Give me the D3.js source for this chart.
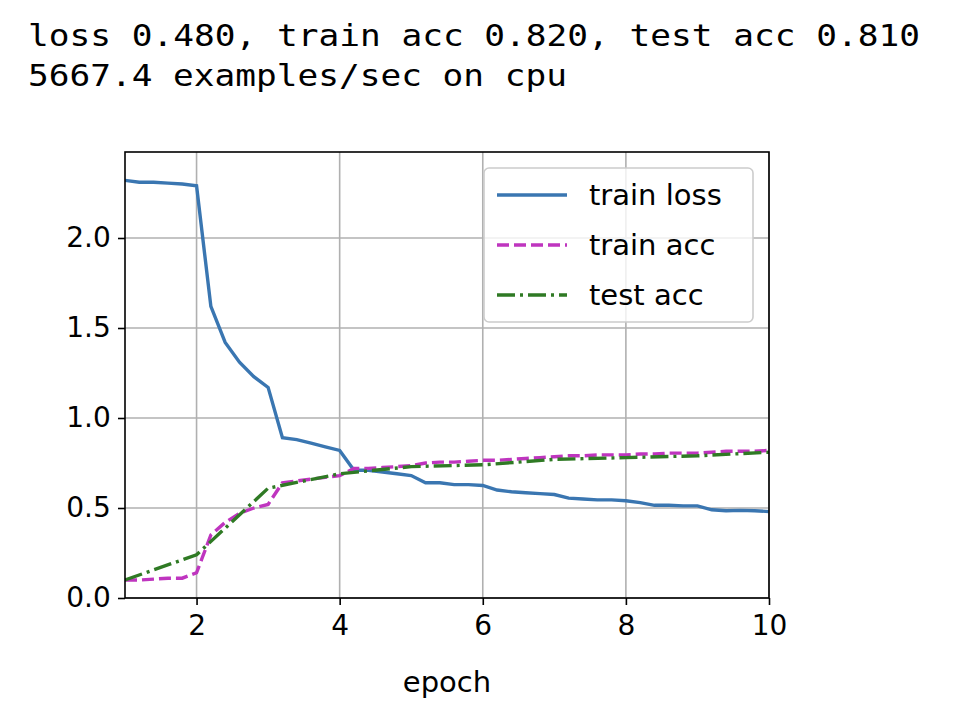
<!DOCTYPE html>
<html><head><meta charset="utf-8">
<script src="https://cdn.jsdelivr.net/npm/d3@7"></script>
<style>body{margin:0;background:#fff}</style></head>
<body><svg id="c" width="968" height="722"></svg>
<script>
const titleLines = ["loss 0.480, train acc 0.820, test acc 0.810", "5667.4 examples/sec on cpu"];
const stepX = [1,1.2,1.4,1.6,1.8,2,2.2,2.4,2.6,2.8,3,3.2,3.4,3.6,3.8,4,4.2,4.4,4.6,4.8,5,5.2,5.4,5.6,5.8,6,6.2,6.4,6.6,6.8,7,7.2,7.4,7.6,7.8,8,8.2,8.4,8.6,8.8,9,9.2,9.4,9.6,9.8,10];
const trainLoss = [2.32,2.31,2.31,2.305,2.30,2.29,1.62,1.42,1.31,1.23,1.17,0.89,0.88,0.86,0.84,0.82,0.71,0.71,0.70,0.69,0.68,0.64,0.64,0.63,0.63,0.625,0.60,0.59,0.585,0.58,0.575,0.555,0.55,0.545,0.545,0.54,0.53,0.515,0.515,0.512,0.512,0.49,0.485,0.487,0.485,0.48];
const trainAcc = [0.10,0.10,0.105,0.11,0.11,0.14,0.35,0.42,0.47,0.50,0.52,0.64,0.65,0.66,0.67,0.68,0.72,0.72,0.725,0.73,0.735,0.75,0.755,0.755,0.76,0.765,0.765,0.77,0.775,0.78,0.785,0.79,0.79,0.795,0.795,0.795,0.80,0.80,0.805,0.805,0.805,0.81,0.815,0.815,0.815,0.82];
const epochX = [1,2,3,4,5,6,7,8,9,10];
const testAcc = [0.10,0.24,0.61,0.69,0.73,0.74,0.77,0.78,0.79,0.81];
const xTicks = [2,4,6,8,10];
const yTicks = [0,0.5,1.0,1.5,2.0];

const svg = d3.select("#c");
const L=125,R=769,T=152,B=598;
const x = d3.scaleLinear().domain([1,10]).range([L,R]);
const y = d3.scaleLinear().domain([0,(B-T)/180]).range([B,T]);
const tw=[892,539];
svg.selectAll("text.t").data(titleLines).join("text").attr("x",28).attr("y",(d,i)=>46+i*40)
  .attr("font-family","DejaVu Sans Mono").attr("font-size",31).attr("textLength",(d,i)=>tw[i]).attr("lengthAdjust","spacingAndGlyphs").text(d=>d);
const g = svg.append("g");
g.selectAll("line.gx").data(xTicks).join("line").attr("x1",d=>x(d)).attr("x2",d=>x(d)).attr("y1",T).attr("y2",B).attr("stroke","#b0b0b0").attr("stroke-width",1.6);
g.selectAll("line.gy").data(yTicks).join("line").attr("y1",d=>y(d)).attr("y2",d=>y(d)).attr("x1",L).attr("x2",R).attr("stroke","#b0b0b0").attr("stroke-width",1.6);
const line=(xs,ys)=>d3.line().x((d,i)=>x(xs[i])).y(d=>y(d))(ys);
svg.append("clipPath").attr("id","cp").append("rect").attr("x",L).attr("y",T).attr("width",R-L).attr("height",B-T);
const lg = g.append("g").attr("clip-path","url(#cp)");
lg.append("path").attr("d",line(stepX,trainLoss)).attr("fill","none").attr("stroke","#3a76b1").attr("stroke-width",3.4);
lg.append("path").attr("d",line(stepX,trainAcc)).attr("fill","none").attr("stroke","#bf35bf").attr("stroke-width",3.4).attr("stroke-dasharray","12,5");
lg.append("path").attr("d",line(epochX,testAcc)).attr("fill","none").attr("stroke","#2f7a24").attr("stroke-width",3.4).attr("stroke-dasharray","18,5,3,5");
const xa = d3.axisBottom(x).tickValues(xTicks).tickSize(7).tickFormat(d3.format("d"));
const ya = d3.axisLeft(y).tickValues(yTicks).tickSize(7).tickFormat(d3.format(".1f"));
const gx = svg.append("g").attr("transform",`translate(0,${B})`).call(xa);
const gy = svg.append("g").attr("transform",`translate(${L},0)`).call(ya);
[gx,gy].forEach(a=>{a.select(".domain").remove();a.selectAll("line").attr("stroke","#000").attr("stroke-width",1.6);
  a.selectAll("text").attr("font-family","DejaVu Sans").attr("font-size",28).attr("fill","#000");});
gx.selectAll("text").attr("dy","0.95em");
gy.selectAll("text").attr("dx","-0.15em");
svg.append("rect").attr("x",L).attr("y",T).attr("width",R-L).attr("height",B-T).attr("fill","none").attr("stroke","#000").attr("stroke-width",1.6);
svg.append("text").attr("x",(L+R)/2).attr("y",692).attr("text-anchor","middle").attr("font-family","DejaVu Sans").attr("font-size",29).text("epoch");
const leg = svg.append("g");
leg.append("rect").attr("x",484).attr("y",168).attr("width",269).attr("height",154).attr("rx",5).attr("fill","#fff").attr("fill-opacity",0.8).attr("stroke","#ccc").attr("stroke-width",1.6);
const items=[["train loss","#3a76b1",null],["train acc","#bf35bf","12,5"],["test acc","#2f7a24","18,5,3,5"]];
items.forEach((it,i)=>{const yy=195+i*50;
  leg.append("line").attr("x1",497).attr("x2",567).attr("y1",yy).attr("y2",yy).attr("stroke",it[1]).attr("stroke-width",3.4).attr("stroke-dasharray",it[2]);
  leg.append("text").attr("x",589).attr("y",yy+10).attr("font-family","DejaVu Sans").attr("font-size",29).text(it[0]);});
</script></body></html>
